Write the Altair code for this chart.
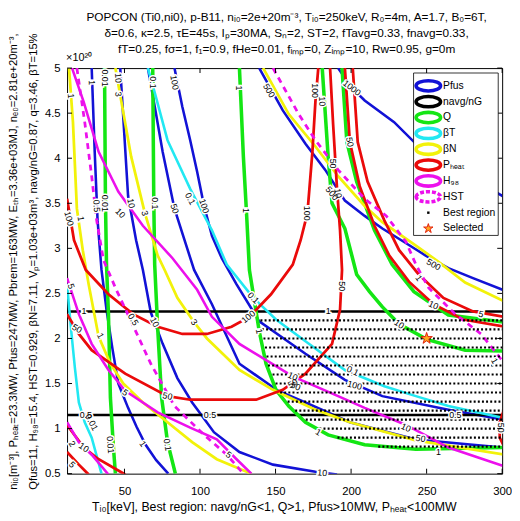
import altair as alt
import pandas as pd

FONT = "Liberation Sans, Arial, Helvetica, sans-serif"

# ---------------- axes
T_domain = [12, 300]
n_domain = [0.5, 5]
x_tick_values = [50, 100, 150, 200, 250, 300]
y_tick_values = [0.5, 1, 1.5, 2, 2.5, 3, 3.5, 4, 4.5, 5]

title_lines = [
    "POPCON (Ti0,ni0), p-B11, nᵢ₀=2e+20m⁻³, Tᵢ₀=250keV, R₀=4m, A=1.7, B₀=6T,",
    "δ=0.6, κ=2.5, τE=45s, Iₚ=30MA, Sₙ=2, ST=2, fTavg=0.33, fnavg=0.33,",
    "fT=0.25, fσ=1, f₁=0.9, fHe=0.01, fᵢₘₚ=0, Zᵢₘₚ=10, Rw=0.95, g=0m",
]
y_title_lines = [
    "nᵢ₀[m⁻³], Pₕₑₐₜ=23.3MW, Pfus=247MW, Pbrem=163MW, Eₜₕ=3.36e+03MJ, nₑ₀=2.81e+20m⁻³,",
    "Qfus=11, H₉₈=15.4, HST=0.929, βN=7.11, Vₚ=1.03e+03m³, navg/nG=0.87, q=3.46, βT=15%",
]
x_title = "Tᵢ₀[keV], Best region: navg/nG<1, Q>1, Pfus>10MW, Pₕₑₐₜ<100MW"

# ---------------- P_fus (blue) contours
pfus_1_T = [28.3, 30.3, 32.2, 34.8, 38.1, 42.0, 45.9, 52.4, 58, 64, 71, 79]
pfus_1_n = [5.0, 4.07, 3.31, 2.76, 2.32, 1.89, 1.50, 1.23, 1.02, 0.82, 0.65, 0.5]
pfus_10_T = [47.2, 49.8, 52.4, 57.7, 62.2, 67.4, 75.3, 85.0, 94.8, 101.4, 109.2, 126.1, 148.3, 176.4, 190.7]
pfus_10_n = [5.0, 4.29, 3.58, 3.09, 2.76, 2.29, 1.94, 1.56, 1.29, 1.14, 0.96, 0.74, 0.60, 0.52, 0.49]
pfus_50_T = [65.5, 70.7, 75.3, 83.1, 96.1, 107.9, 126.1, 151.6, 169.8, 199.2, 242.9, 300.3]
pfus_50_n = [5.0, 4.51, 4.07, 3.44, 2.76, 2.38, 1.72, 1.42, 1.29, 1.07, 0.88, 0.79]
pfus_100_T = [83.1, 88.3, 93.5, 98.1, 102.7, 107.9, 114.4, 124.2, 139.2, 169.8, 195.9, 220.7, 264.4, 300.3]
pfus_100_n = [5.0, 4.57, 4.20, 3.85, 3.47, 3.14, 2.89, 2.60, 2.19, 1.83, 1.54, 1.36, 1.21, 1.10]
pfus_500_T = [139.2, 154.8, 169.8, 182.9, 195.9, 209.0, 220.7, 235.1, 249.4, 264.4, 280.7, 300.3]
pfus_500_n = [5.0, 4.53, 4.16, 3.87, 3.53, 3.36, 3.22, 3.07, 2.92, 2.78, 2.67, 2.54]
pfus_1000_T = [191.4, 200.5, 209.0, 228.5, 242.9, 261.1, 280.7, 300.3]
pfus_1000_n = [5.0, 4.78, 4.64, 4.40, 4.16, 3.96, 3.77, 3.58]

# ---------------- n_avg/n_G (black)
ng_1_T = [12, 300]
ng_1_n = [2.3, 2.3]
ng_05_T = [12, 300]
ng_05_n = [1.15, 1.15]

# ---------------- Q (green)
q_001_T = [36.8, 37.4, 38.1, 39.4, 40.7, 42.7, 44.0]
q_001_n = [5.0, 3.53, 2.82, 2.27, 1.34, 0.79, 0.50]
q_01_T = [68.7, 69.4, 70.0, 72.0, 74.6, 78.5, 83.7]
q_01_n = [5.0, 3.53, 2.82, 2.11, 1.34, 0.85, 0.50]
q_1_T = [126.1, 128.7, 130.7, 132.7, 137.2, 139.2, 143.7, 150.3, 158.7, 169.8, 184.8, 209.0, 242.9, 301.6]
q_1_n = [5.0, 4.02, 3.42, 2.76, 2.29, 2.08, 1.72, 1.43, 1.25, 1.07, 0.93, 0.82, 0.77, 0.79]
q_10_T = [180.9, 184.8, 187.4, 195.9, 200.5, 203.7, 212.2, 220.7, 231.8, 250.1, 275.5, 301.6]
q_10_n = [5.0, 4.02, 3.50, 3.22, 2.92, 2.71, 2.52, 2.35, 2.16, 1.99, 1.87, 1.86]
q_50_T = [194.0, 197.2, 203.7, 215.5, 227.2, 241.6, 264.4, 301.6]
q_50_n = [5.0, 4.18, 3.74, 3.20, 2.82, 2.52, 2.26, 2.18]

# ---------------- beta_T (cyan)
bt_01_T = [65.5, 70.0, 78.5, 93.5, 107.9, 117.7, 135.3, 150.3, 169.8, 195.9, 222.0, 242.9, 264.4, 300.3]
bt_01_n = [5.0, 4.73, 4.20, 3.66, 3.20, 2.82, 2.45, 2.21, 1.97, 1.65, 1.47, 1.36, 1.25, 1.12]
bt_001_T = [12, 14.6, 17.2, 19.8, 23.7, 28.3, 34.8]
bt_001_n = [2.60, 2.11, 1.67, 1.29, 1.07, 0.90, 0.50]

# ---------------- beta_N (yellow)
bn_1_T = [13.3, 15.9, 18.5, 22.4, 26.3, 32.9, 40.7, 49.2, 62.2, 78.5, 94.8, 111.1, 134.0]
bn_1_n = [5.0, 4.40, 3.44, 2.98, 2.60, 2.02, 1.72, 1.50, 1.29, 1.07, 0.85, 0.66, 0.50]
bn_3_T = [44.0, 54.4, 63.5, 72.0, 76.6, 85.0, 96.1, 104.6, 126.1, 148.3, 176.4, 199.2, 242.9, 301.6]
bn_3_n = [5.0, 4.02, 3.39, 2.92, 2.76, 2.45, 2.18, 2.00, 1.65, 1.43, 1.21, 1.07, 0.87, 0.71]
bn_10_T = [141.8, 158.7, 176.4, 191.4, 209.0, 220.7, 242.9, 257.9, 275.5, 301.6]
bn_10_n = [5.0, 4.49, 4.13, 3.80, 3.47, 3.29, 3.03, 2.85, 2.62, 2.41]

# ---------------- P_heat (red)
ph_100_T = [12, 16.6, 24.4, 39.4, 55.7, 72.0, 88.3, 104.6, 120.9, 132.7, 147.0, 161.4, 166.6, 171.1, 174.4, 176.4, 178.3]
ph_100_n = [3.55, 3.09, 2.76, 2.49, 2.27, 2.13, 2.05, 2.05, 2.13, 2.24, 2.49, 2.82, 3.09, 3.39, 4.07, 4.63, 5.0]
ph_50_T = [12, 19.8, 28.3, 50.5, 78.5, 93.5, 111.1, 137.2, 154.8, 169.8, 187.4, 192.7, 194.0, 192.7, 190.7, 188.1, 186.1]
ph_50_n = [2.27, 2.05, 1.87, 1.61, 1.36, 1.32, 1.32, 1.32, 1.43, 1.61, 1.94, 2.32, 2.76, 3.20, 3.66, 4.38, 5.0]
ph_50b_T = [301.6, 298.4, 298.4, 301.6]
ph_50b_n = [1.23, 1.07, 0.90, 0.79]
ph_10_T = [12, 23.1, 32.9, 50.5]
ph_10_n = [1.04, 0.79, 0.66, 0.49]
ph_5_T = [12, 19.8, 26.3]
ph_5_n = [0.74, 0.60, 0.49]
ph_10b_T = [195.9, 199.2, 205.7, 215.5, 225.3, 238.3, 254.6, 274.2, 301.6]
ph_10b_n = [5.0, 4.18, 3.69, 3.25, 2.92, 2.63, 2.38, 2.21, 2.13]
ph_5b_T = [201.1, 204.4, 210.9, 222.0, 231.8, 244.8, 261.1, 280.7, 301.6]
ph_5b_n = [5.0, 4.18, 3.74, 3.31, 2.98, 2.71, 2.45, 2.30, 2.24]

# ---------------- H98 (magenta) and H_ST (magenta dashed)
h98_10_T = [15.3, 23.1, 32.9, 45.9, 62.2, 81.8, 98.1, 107.9, 126.1, 161.4, 191.4, 209.0, 236.4, 264.4, 301.6]
h98_10_n = [5.0, 4.62, 4.07, 3.63, 3.25, 2.89, 2.54, 2.24, 1.94, 1.58, 1.36, 1.23, 1.04, 0.79, 0.58]
h98_5_T = [12, 19.8, 28.3, 39.4, 50.5, 72.0, 93.5, 111.1, 124.2, 134.0]
h98_5_n = [2.67, 2.27, 1.94, 1.65, 1.42, 1.18, 1.01, 0.88, 0.66, 0.50]
h98_2_T = [12, 19.8, 28.3, 39.4]
h98_2_n = [1.07, 0.85, 0.71, 0.49]
hst_05_T = [18.5, 23.7, 28.3, 31.6, 36.1, 44.6, 54.4, 67.4, 83.1, 102.7, 117.7, 128.7]
hst_05_n = [5.0, 4.40, 3.80, 3.31, 2.87, 2.54, 2.19, 1.72, 1.25, 0.93, 0.71, 0.50]
hst_1_T = [148.3, 165.3, 176.4, 191.4, 209.0, 223.3, 236.4, 242.9, 251.4, 269.0, 286.0, 301.6]
hst_1_n = [5.0, 4.49, 4.20, 3.87, 3.55, 3.36, 3.07, 2.82, 2.56, 2.27, 2.05, 1.72]

# ---------------- best region rows and selected point
best_n = [2.2, 2.1, 2.0, 1.9, 1.8, 1.7, 1.6, 1.5, 1.4, 1.3, 1.2, 1.1, 1.0, 0.9, 0.8]
best_T_start = [140, 141, 142, 143, 144, 145, 148, 150, 153, 158, 163, 170, 179, 191, 218]
best_T_end = [300, 300, 300, 300, 300, 300, 300, 300, 300, 300, 300, 300, 300, 300, 300]
selected_T = [250]
selected_n = [2.0]

# ---------------- contour labels
label_text = ["1", "1", "10", "10", "10", "10", "50", "50", "50", "100", "100", "100",
              "500", "500", "500", "1000",
              "0.1", "0.1", "0.1", "0.01",
              "1", "1", "1", "3", "3", "3",
              "0.01", "0.01", "0.01", "0.1", "0.1", "0.1", "1", "1", "1", "1", "1",
              "10", "10", "10", "50",
              "100", "100", "100", "100", "50", "50", "50", "50", "50", "10", "5", "10", "5", "50",
              "10", "10", "10", "5", "5", "5", "2",
              "0.5", "0.5", "1", "1",
              "1", "1", "0.5", "0.5", "0.5"]
label_T = [28.3, 62.2, 45.9, 54.4, 70.0, 180.9, 83.1, 163.3, 246.0, 83.1, 102.7, 202.4,
           145.7, 187.4, 254.6, 200.5,
           93.5, 135.3, 201.1, 28.3,
           14.6, 21.1, 34.2, 45.9, 63.5, 96.1,
           37.4, 37.4, 40.7, 68.7, 70.0, 78.5, 126.1, 130.7, 139.2, 178.3, 257.9,
           180.9, 191.4, 231.8, 199.2,
           13.3, 132.0, 171.1, 176.4, 18.5, 78.5, 161.4, 194.0, 188.1, 23.1, 15.3, 254.6, 286.0, 299.0,
           47.2, 161.4, 236.4, 14.6, 50.5, 119.0, 15.3,
           31.6, 55.7, 244.8, 295.0,
           23.1, 184.8, 24.4, 106.6, 269.0]
label_n = [4.84, 0.83, 4.89, 3.50, 2.18, 0.51, 3.44, 1.47, 0.89, 4.84, 3.47, 1.48,
           4.75, 3.61, 2.82, 4.78,
           3.55, 2.45, 1.64, 1.07,
           4.69, 3.33, 2.03, 4.71, 3.39, 2.18,
           4.89, 3.50, 0.82, 4.84, 3.50, 0.82, 4.78, 3.42, 2.08, 0.96, 0.74,
           4.63, 3.61, 2.16, 4.18,
           3.33, 2.24, 3.39, 4.75, 2.11, 1.36, 1.50, 2.58, 3.94, 0.79, 0.60, 2.37, 2.27, 1.01,
           3.39, 1.58, 1.01, 2.58, 1.40, 0.71, 0.83,
           3.47, 2.21, 2.67, 1.75,
           2.3, 2.3, 1.15, 1.15, 1.15]
label_angle = [88, 55, 86, 80, 62, 5, 72, 22, 8, 80, 72, 16,
               58, 50, 30, 38,
               62, 45, 25, 62,
               85, 80, 62, 80, 72, 50,
               90, 90, 85, 90, 90, 80, 90, 90, 78, 30, 0,
               88, 80, 35, 80,
               75, 320, 90, 90, 30, 12, 330, 90, 90, 35, 45, 25, 12, 90,
               45, 25, 25, 70, 35, 35, 55,
               85, 60, 55, 60,
               0, 0, 0, 0, 0]

# ---------------- legend
legend_names = ["Pfus", "navg/nG", "Q", "βT", "βN", "Pₕₑₐₜ", "H₉₈", "HST", "Best region", "Selected"]
legend_colors = ["#1212d6", "#000000", "#14e614", "#22e8f2", "#f2f20a", "#ea0a0a", "#ec10ec", "#ec10ec"]

BLUE, BLACK, GREEN, CYAN, YELLOW, RED, MAGENTA = legend_colors[:7]

ELLIPSE = ("M-1,0 C-1,-0.232 -0.552,-0.42 0,-0.42 C0.552,-0.42 1,-0.232 1,0 "
           "C1,0.232 0.552,0.42 0,0.42 C-0.552,0.42 -1,0.232 -1,0 Z")
STAR = ("M0,-1 L0.223,-0.307 L0.951,-0.309 L0.361,0.117 L0.588,0.809 L0,0.38 "
        "L-0.588,0.809 L-0.361,0.117 L-0.951,-0.309 L-0.223,-0.307 Z")

W, H = 442, 412


def lines_df(items):
    rows = []
    for lid, (Ts, ns) in enumerate(items):
        for k, (t, v) in enumerate(zip(Ts, ns)):
            rows.append({"lid": lid, "i": k, "T": t, "n": v})
    return pd.DataFrame(rows)


x_scale = alt.Scale(domain=T_domain, nice=False, zero=False)
y_scale = alt.Scale(domain=n_domain, nice=False, zero=False)

x_axis = alt.Axis(values=x_tick_values, title=x_title, ticks=False, domain=False, grid=False,
                  labelFontSize=11.5, labelFont=FONT, labelColor="black", labelPadding=12,
                  labelFlush=False, labelOverlap=False,
                  titleFontSize=12.5, titleFont=FONT, titleFontWeight="normal",
                  titleColor="black", titlePadding=4, titleX=210)
y_axis = alt.Axis(values=y_tick_values, title=y_title_lines, format="~g", ticks=False,
                  domain=False, grid=False, labelFontSize=11.5, labelFont=FONT,
                  labelColor="black", labelPadding=7, labelFlush=False, labelOverlap=False,
                  titleFontSize=11.4, titleFont=FONT, titleFontWeight="normal",
                  titleColor="black", titlePadding=6, titleLineHeight=20, titleY=196)

X = alt.X("T:Q", scale=x_scale, axis=x_axis)
Y = alt.Y("n:Q", scale=y_scale, axis=y_axis)


def line_layer(items, color, width, dash=None):
    kw = dict(color=color, strokeWidth=width, clip=True, strokeCap="butt")
    if dash:
        kw["strokeDash"] = dash
    return alt.Chart(lines_df(items)).mark_line(**kw).encode(
        x=X, y=Y, detail="lid:N", order="i:Q")


layers = [
    line_layer([(pfus_1_T, pfus_1_n), (pfus_10_T, pfus_10_n), (pfus_50_T, pfus_50_n),
                (pfus_100_T, pfus_100_n), (pfus_500_T, pfus_500_n), (pfus_1000_T, pfus_1000_n)],
               BLUE, 2.6),
    line_layer([(ng_1_T, ng_1_n), (ng_05_T, ng_05_n)], BLACK, 2.6),
    line_layer([(q_001_T, q_001_n), (q_01_T, q_01_n), (q_1_T, q_1_n), (q_10_T, q_10_n),
                (q_50_T, q_50_n)], GREEN, 3.6),
    line_layer([(bt_01_T, bt_01_n), (bt_001_T, bt_001_n)], CYAN, 2.6),
    line_layer([(bn_1_T, bn_1_n), (bn_3_T, bn_3_n), (bn_10_T, bn_10_n)], YELLOW, 2.8),
    line_layer([(ph_100_T, ph_100_n), (ph_50_T, ph_50_n), (ph_50b_T, ph_50b_n),
                (ph_10_T, ph_10_n), (ph_5_T, ph_5_n), (ph_10b_T, ph_10b_n), (ph_5b_T, ph_5b_n)],
               RED, 2.8),
    line_layer([(h98_10_T, h98_10_n), (h98_5_T, h98_5_n), (h98_2_T, h98_2_n)], MAGENTA, 2.6),
    line_layer([(hst_05_T, hst_05_n), (hst_1_T, hst_1_n)], MAGENTA, 2.8, dash=[6, 5]),
]

best_df = pd.DataFrame({"n": best_n, "t0": best_T_start, "t1": best_T_end})
layers.append(
    alt.Chart(best_df).mark_rule(color="black", strokeWidth=2.2, strokeDash=[2, 2.2],
                                 strokeCap="butt").encode(
        x=alt.X("t0:Q", scale=x_scale, axis=x_axis), x2="t1:Q",
        y=alt.Y("n:Q", scale=y_scale, axis=y_axis)))

sel_df = pd.DataFrame({"T": selected_T, "n": selected_n})
layers.append(
    alt.Chart(sel_df).mark_point(shape=STAR, size=150, filled=True, fill="#ffa81e",
                                 stroke="#e3200e", strokeWidth=1, opacity=1).encode(x=X, y=Y))

lab_df = pd.DataFrame({"txt": label_text, "T": label_T, "n": label_n, "ang": label_angle})
layers.append(
    alt.Chart(lab_df).mark_text(fontSize=9, font=FONT, stroke="white", strokeWidth=3,
                                fill="white", align="center", baseline="middle").encode(
        x=X, y=Y, text="txt:N", angle=alt.Angle("ang:Q", scale=None)))
layers.append(
    alt.Chart(lab_df).mark_text(fontSize=9, font=FONT, color="black",
                                align="center", baseline="middle").encode(
        x=X, y=Y, text="txt:N", angle=alt.Angle("ang:Q", scale=None)))

# inward tick marks on all four sides
xt_df = pd.DataFrame({"T": x_tick_values})
yt_df = pd.DataFrame({"n": y_tick_values})
layers += [
    alt.Chart(xt_df).mark_rule(color="black", strokeWidth=1).encode(
        x=X, y=alt.value(H), y2=alt.value(H - 5)),
    alt.Chart(xt_df).mark_rule(color="black", strokeWidth=1).encode(
        x=X, y=alt.value(0), y2=alt.value(5)),
    alt.Chart(yt_df).mark_rule(color="black", strokeWidth=1).encode(
        y=Y, x=alt.value(0), x2=alt.value(5)),
    alt.Chart(yt_df).mark_rule(color="black", strokeWidth=1).encode(
        y=Y, x=alt.value(W), x2=alt.value(W - 5)),
]

one = pd.DataFrame({"t": ["×10²⁰"]})
layers.append(
    alt.Chart(one).mark_text(fontSize=11, font=FONT, color="black", align="left",
                             baseline="middle").encode(
        x=alt.value(-1), y=alt.value(-10), text="t:N"))

# chart title (three centred lines above the plot)
for k, line in enumerate(title_lines):
    layers.append(
        alt.Chart(pd.DataFrame({"t": [line]})).mark_text(
            fontSize=12, font=FONT, color="black", align="center", baseline="middle").encode(
            x=alt.value(W / 2 + 2), y=alt.value(-52 + 16.5 * k), text="t:N"))

main = alt.layer(*layers)

# ---------------- legend box
LY = alt.Y("entry:N", scale=alt.Scale(type="point", domain=legend_names, range=[18, 163], padding=0),
           axis=None)
leg_lines = pd.DataFrame({"entry": legend_names[:7]})
leg_hst = pd.DataFrame({"entry": legend_names[7:8]})
leg_best = pd.DataFrame({"entry": legend_names[8:9]})
leg_sel = pd.DataFrame({"entry": legend_names[9:10]})
leg_all = pd.DataFrame({"entry": legend_names})
box = pd.DataFrame({"b": [1]})

legend = alt.layer(
    alt.Chart(box).mark_rect(fill="white", stroke="black", strokeWidth=0.8).encode(
        x=alt.value(352), x2=alt.value(438), y=alt.value(5), y2=alt.value(170)),
    alt.Chart(leg_lines).mark_point(shape=ELLIPSE, size=620, filled=False, strokeWidth=3.6,
                                    opacity=1).encode(
        x=alt.value(367), y=LY,
        color=alt.Color("entry:N", scale=alt.Scale(domain=legend_names[:7], range=legend_colors[:7]),
                        legend=None)),
    alt.Chart(leg_hst).mark_point(shape=ELLIPSE, size=620, filled=False, strokeWidth=3.6,
                                  strokeDash=[4, 2], color=MAGENTA, opacity=1).encode(
        x=alt.value(367), y=LY),
    alt.Chart(leg_best).mark_square(size=6, color="black", opacity=1).encode(
        x=alt.value(367), y=LY),
    alt.Chart(leg_sel).mark_point(shape=STAR, size=100, filled=True, fill="#ffa81e",
                                  stroke="#e3200e", strokeWidth=1, opacity=1).encode(
        x=alt.value(367), y=LY),
    alt.Chart(leg_all).mark_text(fontSize=10.5, font=FONT, color="black", align="left",
                                 baseline="middle").encode(
        x=alt.value(382), y=LY, text="entry:N"),
)

chart = alt.layer(main, legend).resolve_scale(y="independent", color="independent").properties(
    width=W, height=H,
    autosize=alt.AutoSizeParams(type="none"),
    padding={"left": 60, "top": 57, "right": 10, "bottom": 40},
).configure_view(stroke="black", strokeWidth=1)

chart.save("out.html", embed_options={"renderer": "svg", "actions": False})
